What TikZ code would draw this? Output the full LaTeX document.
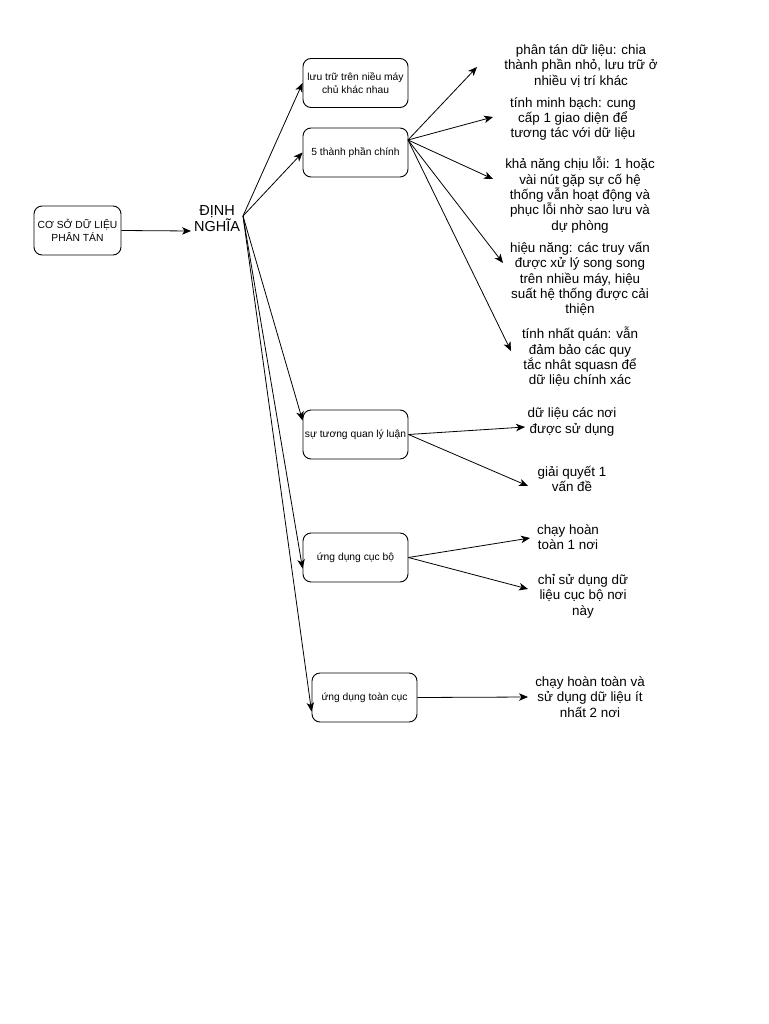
\documentclass[tikz,border=0pt]{standalone}
\usepackage{fontspec}
\setmainfont{Liberation Sans}
\usetikzlibrary{arrows.meta}
\begin{document}
\begin{tikzpicture}[x=1pt,y=-1pt,
  box/.style={draw,line width=0.9pt,rounded corners=8pt,inner sep=0pt,
    minimum width=105pt,minimum height=49pt,align=center,
    font=\fontsize{10.3}{12.8}\selectfont},
  lbl/.style={inner sep=0pt,align=center,font=\fontsize{13.4}{15.4}\selectfont},
  arr/.style={line width=0.8pt,-{Stealth[length=9pt,width=7.5pt,inset=2.5pt]}}]
\useasboundingbox[fill=white] (0,0) rectangle (768,1024);
% boxes
\node[box,minimum width=87pt] (csdl) at (77.5,230.5) {CƠ SỞ DỮ LIỆU\\PHÂN TÁN};
\node[inner sep=0pt,align=center,font=\fontsize{14.5}{16.5}\selectfont] (dn) at (217,218.5) {ĐỊNH\\NGHĨA};
\coordinate (dnout) at (243,216);
\coordinate (dnin) at (191,231);
\node[box] (lt) at (355.5,83) {lưu trữ trên niều máy\\chủ khác nhau};
\node[box] (tp) at (355.5,152.5) {5 thành phần chính};
\node[box] (stq) at (355.5,434.5) {sự tương quan lý luận};
\node[box] (cb) at (355.5,557.5) {ứng dụng cục bộ};
\node[box] (tc) at (364.5,697.5) {ứng dụng toàn cục};
% labels
\node[lbl] (l1) at (581,66) {phân tán dữ liệu: chia\\thành phần nhỏ, lưu trữ ở\\nhiều vị trí khác};
\node[lbl] (l2) at (573,119) {tính minh bạch: cung\\cấp 1 giao diện để\\tương tác với dữ liệu};
\node[lbl] (l3) at (580,195) {khả năng chịu lỗi: 1 hoặc\\vài nút gặp sự cố hệ\\thống vẫn hoạt động và\\phục lỗi nhờ sao lưu và\\dự phòng};
\node[lbl] (l4) at (580,279) {hiệu năng: các truy vấn\\được xử lý song song\\trên nhiều máy, hiệu\\suất hệ thống được cải\\thiện};
\node[lbl] (l5) at (580,357) {tính nhất quán: vẫn\\đảm bảo các quy\\tắc nhât squasn để\\dữ liệu chính xác};
\node[lbl] (l6) at (572,422) {dữ liệu các nơi\\được sử dụng};
\node[lbl] (l7) at (572,479) {giải quyết 1\\vấn đề};
\node[lbl] (l8) at (568,537) {chạy hoàn\\toàn 1 nơi};
\node[lbl] (l9) at (583,596) {chỉ sử dụng dữ\\liệu cục bộ nơi\\này};
\node[lbl] (l10) at (590,697) {chạy hoàn toàn và\\sử dụng dữ liệu ít\\nhất 2 nơi};
% arrow end points
\coordinate (e1) at (477,67);
\coordinate (e2) at (493,117);
\coordinate (e3) at (493,179);
\coordinate (e4) at (503,263);
\coordinate (e5) at (511,351);
\coordinate (e6) at (525,427);
\coordinate (e7) at (528,486);
\coordinate (e8) at (530,538);
\coordinate (e9) at (528,589);
\coordinate (e10) at (528,697);
\coordinate (tpout) at (408,140);
% connectors
\draw[arr] (csdl.east) -- (dnin);
\draw[arr] (dnout) -- (lt.west);
\draw[arr] (dnout) -- (tp.west);
\draw[arr] (dnout) -- ([yshift=14pt]stq.west);
\draw[arr] (dnout) -- ([yshift=-11pt]cb.west);
\draw[arr] (dnout) -- ([yshift=-14pt]tc.west);
\draw[arr] (tpout) -- (e1);
\draw[arr] (tpout) -- (e2);
\draw[arr] (tpout) -- (e3);
\draw[arr] (tpout) -- (e4);
\draw[arr] (tpout) -- (e5);
\draw[arr] (stq.east) -- (e6);
\draw[arr] (stq.east) -- (e7);
\draw[arr] (cb.east) -- (e8);
\draw[arr] (cb.east) -- (e9);
\draw[arr] (tc.east) -- (e10);
\end{tikzpicture}
\end{document}
